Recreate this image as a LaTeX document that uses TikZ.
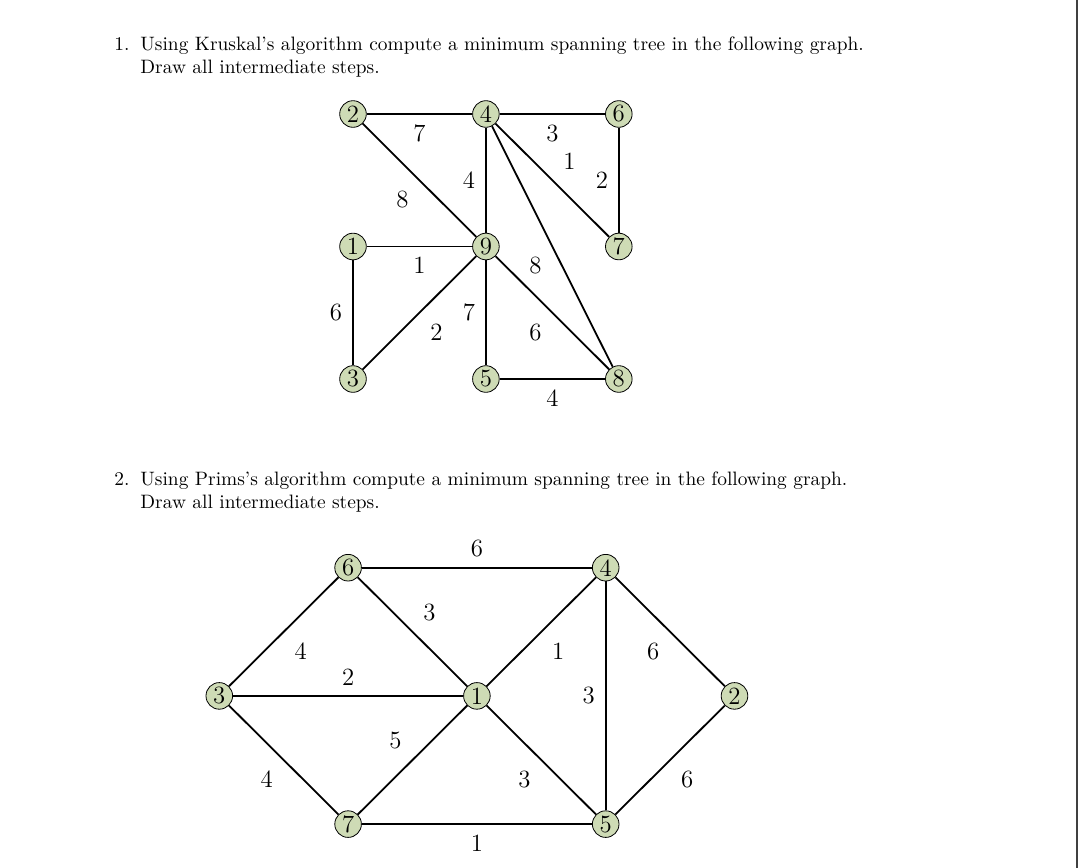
\documentclass[tikz,border=0pt]{standalone}
\usepackage{tikz}
\usetikzlibrary{positioning}

\definecolor{vgreen}{RGB}{206,219,181}

\begin{document}
\begin{tikzpicture}[x=0.5pt, y=-0.5pt,
    vertex/.style={circle, draw, fill=vgreen, inner sep=0pt, minimum size=13.3pt,
        font=\fontsize{12.4}{14}\selectfont},
    edge/.style={line width=0.9pt},
    wt/.style={inner sep=5pt, font=\fontsize{12.4}{14}\selectfont},
    task/.style={anchor=base west, inner sep=0pt, font=\fontsize{9.7}{11.6}\selectfont}
]
\useasboundingbox (0,0) rectangle (1078,868);
\fill[black!75] (1076,0) rectangle (1078,868);

% Question 1
\node[task] (n1) at (114,50) {1.};
\node[task] (t1) at (140,50) {Using Kruskal's algorithm compute a minimum spanning tree in the following graph.};
\node[task] (d1) at (140,73.3) {Draw all intermediate steps.};

% Kruskal graph
\foreach \n/\x/\y in {2/0/0,4/1/0,6/2/0,1/0/1,9/1/1,7/2/1,3/0/2,5/1/2,8/2/2} {
    \node[vertex] (k\n) at (353+132.9*\x, 114+132.5*\y) {\n};
}

\foreach \a/\b/\w/\an in {2/4/7/north, 4/6/3/north, 2/9/8/north east, 4/9/4/east,
    4/7/1/south west, 6/7/2/east, 1/9/1/north, 4/8/8/north east, 1/3/6/east,
    3/9/2/north west, 9/5/7/east, 9/8/6/north east, 5/8/4/north} {
    \draw[edge] (k\a) -- node[wt, anchor=\an] {\w} (k\b);
}

% Question 2
\node[task] (n2) at (114,485.7) {2.};
\node[task] (t2) at (140,485.7) {Using Prims's algorithm compute a minimum spanning tree in the following graph.};
\node[task] (d2) at (140,508.5) {Draw all intermediate steps.};

% Prim graph
\foreach \n/\x/\y in {3/0/1,6/1/0,7/1/2,1/2/1,4/3/0,5/3/2,2/4/1} {
    \node[vertex] (p\n) at (219.3+128.8*\x, 567.7+128.2*\y) {\n};
}

\foreach \a/\b/\w/\an in {6/4/6/south, 6/1/3/south west, 3/6/4/north west, 3/1/2/south,
    7/1/5/south east, 3/7/4/north east, 1/4/1/north west, 4/5/3/east,
    1/5/3/north east, 7/5/1/north, 4/2/6/north east, 5/2/6/north west} {
    \draw[edge] (p\a) -- node[wt, anchor=\an] {\w} (p\b);
}

\end{tikzpicture}
\end{document}
